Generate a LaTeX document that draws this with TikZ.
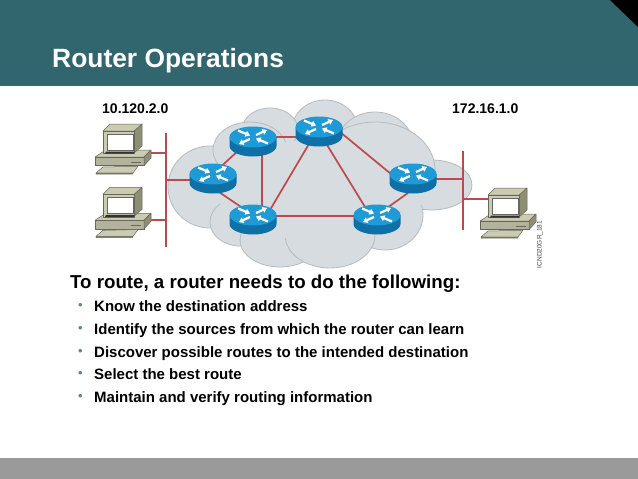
\documentclass[tikz,border=0pt]{standalone}
\usepackage{fontspec}
\setmainfont{Liberation Sans}
\usetikzlibrary{arrows.meta}
\definecolor{band}{HTML}{31666F}
\definecolor{footer}{HTML}{9A9A9A}
\definecolor{cloudfill}{HTML}{D6DCDF}
\definecolor{cloudline}{HTML}{B4BCC0}
\definecolor{linkred}{HTML}{BC4A4C}
\definecolor{rtop}{HTML}{1E9AD6}
\definecolor{rside}{HTML}{0E70A6}
\definecolor{pcface}{HTML}{CBCBB2}
\definecolor{pcside}{HTML}{8E8E74}
\definecolor{pcedge}{HTML}{66665A}
\tikzset{
  x=1pt,y=-1pt,
  anchorpt/.style={circle,inner sep=0pt,minimum size=14pt},
  link/.style={draw=linkred,line width=1.7pt},
  bar/.style={draw=linkred,line width=1.7pt},
  cloudlobe/.style={fill=cloudfill,draw=cloudline,line width=.8pt},
  rarrow/.style={white,line width=2.2pt,-{Triangle[width=6pt,length=4.5pt]}},
  pcpart/.style={draw=pcedge,line width=.5pt,line join=round},
  item/.style={anchor=base west,inner sep=0pt,font=\fontsize{15}{17}\selectfont\bfseries,text=black},
  bul/.style={anchor=base west,inner sep=0pt,font=\fontsize{13}{14}\selectfont,text=band!80!white},
  pics/router/.style={code={
    \fill[rside] (-23.5,0) -- (-23.5,9) arc[start angle=180,end angle=360,x radius=23.5,y radius=-10.5] -- (23.5,0) -- cycle;
    \fill[rtop] (0,0) ellipse[x radius=23.5,y radius=10.5];
    \draw[rarrow] (-15,-6.5) -- (-3,-1.5);
    \draw[rarrow] (15,6.5) -- (3,1.5);
    \draw[rarrow] (3,-2) -- (14,-7);
    \draw[rarrow] (-3,2) -- (-14,7);
  }},
  pics/pc/.style={code={
    % origin = left front corner of the base top
    \filldraw[pcpart,fill=pcface] (0,0) -- (10,-6.5) -- (56,-7) -- (49,0) -- cycle;
    \filldraw[pcpart,fill=pcface!88!black] (0,0) -- (49,0) -- (49,8.7) -- (0,8.7) -- cycle;
    \filldraw[pcpart,fill=pcside] (49,0) -- (56,-7) -- (56,1) -- (49,8.7) -- cycle;
    \draw[pcedge,line width=.6pt] (36,5) -- (46,5);
    \filldraw[pcpart,fill=pcside] (39,-26) -- (47,-33) -- (47,-11) -- (39,-4) -- cycle;
    \filldraw[pcpart,fill=pcface] (8,-26) -- (15,-33) -- (47,-33) -- (39,-26) -- cycle;
    \filldraw[pcpart,fill=pcface] (8,-26) -- (39,-26) -- (39,-3.5) -- (8,-3.5) -- cycle;
    \fill[black!80] (11,-5.5) -- (39,-5.5) -- (39,-3.5) -- (10,-3.5) -- cycle;
    \filldraw[draw=black!60,line width=.4pt,fill=white] (12,-23) -- (38,-23) -- (38,-7) -- (12,-7) -- cycle;
    \filldraw[pcpart,fill=pcface] (1,16) -- (8,10) -- (43,9.2) -- (38,16) -- cycle;
    \filldraw[pcpart,fill=pcface!75!black] (1,16) -- (38,16) -- (37.5,17.2) -- (1,17.2) -- cycle;
  }}
}
\begin{document}
\begin{tikzpicture}
\useasboundingbox (0,0) rectangle (638,479);
\fill[white] (0,0) rectangle (638,479);
\fill[band] (0,0) rectangle (638,86);
\fill[black] (610,0) -- (638,0) -- (638,27) -- cycle;
\fill[footer] (0,458) rectangle (638,479);
\node[anchor=base west,inner sep=0pt,text=white,font=\fontsize{26.4}{30}\selectfont\bfseries] (title) at (52,67) {Router Operations};

% cloud: overlapping lobes
\path[cloudlobe] (432,185) ellipse[x radius=40,y radius=25];
\path[cloudlobe] (325,130) ellipse[x radius=33,y radius=30];
\path[cloudlobe] (375,145) ellipse[x radius=38,y radius=33];
\path[cloudlobe] (270,130) ellipse[x radius=28,y radius=22];
\path[cloudlobe] (375,170) ellipse[x radius=60,y radius=48];
\path[cloudlobe] (210,187) ellipse[x radius=42,y radius=41];
\path[cloudlobe] (250,150) ellipse[x radius=37,y radius=28];
\path[cloudlobe] (240,222) ellipse[x radius=30,y radius=24];
\path[cloudlobe] (280,240) ellipse[x radius=40,y radius=27];
\path[cloudlobe] (385,215) ellipse[x radius=38,y radius=35];
\path[cloudlobe] (330,235) ellipse[x radius=45,y radius=33];
\fill[cloudfill] (312,190) ellipse[x radius=92,y radius=50];
\fill[cloudfill] (250,200) ellipse[x radius=30,y radius=24];
\fill[cloudfill] (330,150) ellipse[x radius=30,y radius=20];
\fill[cloudfill] (415,190) ellipse[x radius=22,y radius=16];

% network anchors (centre of each router's top face)
\node[anchorpt] (r1) at (213,174) {};
\node[anchorpt] (r2) at (253,137) {};
\node[anchorpt] (r3) at (319,127) {};
\node[anchorpt] (r4) at (413,174) {};
\node[anchorpt] (r5) at (377,215) {};
\node[anchorpt] (r6) at (253,215) {};
\coordinate (lt) at (166,133);
\coordinate (lb) at (166,247);
\coordinate (lr1) at (166,180);
\coordinate (lp1) at (166,153);
\coordinate (lp2) at (166,220);
\coordinate (rt) at (462.7,151);
\coordinate (rb) at (462.7,230);
\coordinate (rr4) at (462.7,179);
\coordinate (rp3) at (462.7,199);
\coordinate (p1) at (148,153);
\coordinate (p2) at (148,220);
\coordinate (p3) at (490,199);

% links
\draw[link] (r1.center) -- (r2.center);
\draw[link] ([shift={(0,14)}]r1.center) -- (r6.center);
\draw[link] ([shift={(0,0)}]r2.center) -- ([shift={(0,10)}]r3.center);
\draw[link] ([shift={(9,0)}]r2.center) -- ([shift={(9,0)}]r6.center);
\draw[link] (r3.center) -- ([shift={(14,0)}]r6.center);
\draw[link] ([shift={(15,0)}]r3.center) -- ([shift={(-22,0)}]r4.center);
\draw[link] ([shift={(-3,0)}]r3.center) -- ([shift={(-7,0)}]r5.center);
\draw[link] ([shift={(-5,19)}]r4.center) -- (r5.center);
\draw[link] ([shift={(0,1)}]r5.center) -- ([shift={(0,1)}]r6.center);
\draw[bar] (lt) -- (lb);
\draw[bar] (rt) -- (rb);
\draw[link] (lr1) -- ([shift={(0,6)}]r1.center);
\draw[link] (p1) -- (lp1);
\draw[link] (p2) -- (lp2);
\draw[link] ([shift={(0,5)}]r4.center) -- (rr4);
\draw[link] (rp3) -- (p3);

% routers
\path (r1.center) pic {router};
\path (r2.center) pic {router};
\path (r3.center) pic {router};
\path (r4.center) pic {router};
\path (r5.center) pic {router};
\path (r6.center) pic {router};

% computers
\path (95,157) pic {pc};
\path (95,220.3) pic {pc};
\path (480,221) pic {pc};

% labels
\node[anchor=base west,inner sep=0pt,font=\fontsize{14}{15}\selectfont\bfseries] (net1) at (102,113) {10.120.2.0};
\node[anchor=base west,inner sep=0pt,font=\fontsize{14}{15}\selectfont\bfseries] (net2) at (452,113) {172.16.1.0};
\node[rotate=90,inner sep=0pt,font=\fontsize{6.5}{7}\selectfont,text=black!75] (code) at (540,244.5) {ICND20GR\_181};

\node[anchor=base west,inner sep=0pt,font=\fontsize{18.7}{20}\selectfont\bfseries] (head) at (70,288) {To route, a router needs to do the following:};
\node[bul] (b1) at (78,309) {•};
\node[bul] (b2) at (78,332) {•};
\node[bul] (b3) at (78,355) {•};
\node[bul] (b4) at (78,377) {•};
\node[bul] (b5) at (78,400) {•};
\node[item] (i1) at (94,311) {Know the destination address};
\node[item] (i2) at (94,334) {Identify the sources from which the router can learn};
\node[item] (i3) at (94,357) {Discover possible routes to the intended destination};
\node[item] (i4) at (94,379) {Select the best route};
\node[item] (i5) at (94,402) {Maintain and verify routing information};
\end{tikzpicture}
\end{document}
